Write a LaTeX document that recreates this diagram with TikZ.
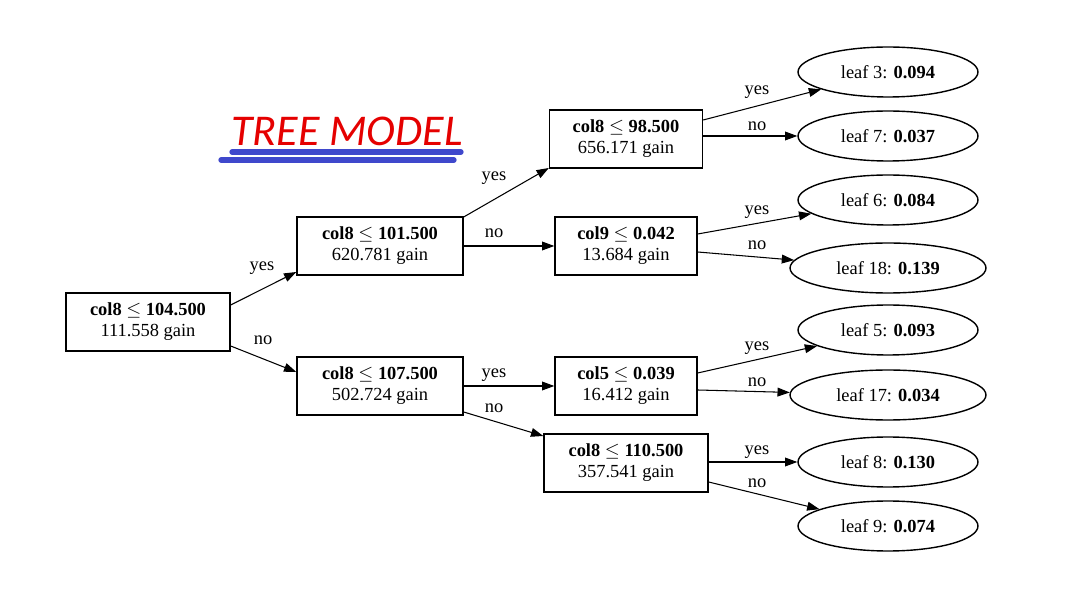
\documentclass[tikz,border=0pt]{standalone}
\usepackage{fontspec}
\setmainfont{Liberation Serif}
\newfontfamily\titlefont{Carlito}
\usetikzlibrary{arrows.meta,shapes.geometric}
\definecolor{ulblue}{HTML}{3F48CC}
\begin{document}
\begin{tikzpicture}[x=0.02cm,y=-0.02cm,
  box/.style={draw,thick,inner sep=0pt,align=center,font=\fontsize{10.5}{12}\selectfont},
  leaf/.style={draw,thick,ellipse,inner sep=0pt,minimum height=1cm,font=\fontsize{10.5}{12}\selectfont},
  edge/.style={-{Triangle[length=7pt,width=5pt]},semithick},
  lab/.style={font=\fontsize{10.5}{12}\selectfont,inner sep=1pt}]
\useasboundingbox (0,0) rectangle (1065,597);
\node[box,minimum width=3.28cm,minimum height=1.16cm] (r) at (148,322) {\textbf{col8 $\le$ 104.500}\\111.558 gain};
\node[box,minimum width=3.32cm,minimum height=1.16cm] (a) at (380,246) {\textbf{col8 $\le$ 101.500}\\620.781 gain};
\node[box,minimum width=3.32cm,minimum height=1.16cm] (b) at (380,386) {\textbf{col8 $\le$ 107.500}\\502.724 gain};
\node[box,minimum width=3.06cm,minimum height=1.16cm] (c) at (626,139) {\textbf{col8 $\le$ 98.500}\\656.171 gain};
\node[box,minimum width=2.84cm,minimum height=1.16cm] (d) at (626,246) {\textbf{col9 $\le$ 0.042}\\13.684 gain};
\node[box,minimum width=2.84cm,minimum height=1.16cm] (e) at (626,386) {\textbf{col5 $\le$ 0.039}\\16.412 gain};
\node[box,minimum width=3.28cm,minimum height=1.16cm] (f) at (626,463) {\textbf{col8 $\le$ 110.500}\\357.541 gain};
\node[leaf,minimum width=3.6cm] (l3) at (888,72) {leaf 3: \textbf{0.094}};
\node[leaf,minimum width=3.6cm] (l7) at (888,136) {leaf 7: \textbf{0.037}};
\node[leaf,minimum width=3.6cm] (l6) at (888,200) {leaf 6: \textbf{0.084}};
\node[leaf,minimum width=3.92cm] (l18) at (888,268) {leaf 18: \textbf{0.139}};
\node[leaf,minimum width=3.6cm] (l5) at (888,330) {leaf 5: \textbf{0.093}};
\node[leaf,minimum width=3.92cm] (l17) at (888,395) {leaf 17: \textbf{0.034}};
\node[leaf,minimum width=3.6cm] (l8) at (888,462) {leaf 8: \textbf{0.130}};
\node[leaf,minimum width=3.6cm] (l9) at (888,526) {leaf 9: \textbf{0.074}};
\draw[edge] (r.east|-0,305) -- (a.west|-0,272);
\draw[edge] (r.east|-0,346) -- (b.west|-0,372);
\draw[edge] (a.east|-0,217) -- (c.south west|-0,168) ;
\draw[edge] (a) -- (d);
\draw[edge] (b) -- (e);
\draw[edge] (b.east|-0,412) -- (f.north west|-0,436);
\draw[edge] (c.east|-0,120) -- (l3);
\draw[edge] (c.east|-0,136) -- (l7);
\draw[edge] (d.east|-0,234) -- (l6);
\draw[edge] (d.east|-0,252) -- (l18);
\draw[edge] (e.east|-0,373) -- (l5);
\draw[edge] (e.east|-0,390) -- (l17);
\draw[edge] (f.east|-0,462) -- (l8);
\draw[edge] (f.east|-0,482) -- (l9);
\node[lab] (y1) at (262,268) {yes};
\node[lab] (n1) at (263,340) {no};
\node[lab] (y2) at (494,178) {yes};
\node[lab] (n2) at (494,233) {no};
\node[lab] (y3) at (494,375) {yes};
\node[lab] (n3) at (494,408) {no};
\node[lab] (y4) at (757,92) {yes};
\node[lab] (n4) at (757,126) {no};
\node[lab] (y5) at (757,212) {yes};
\node[lab] (n5) at (757,245) {no};
\node[lab] (y6) at (757,348) {yes};
\node[lab] (n6) at (757,382) {no};
\node[lab] (y7) at (757,452) {yes};
\node[lab] (n7) at (757,483) {no};
\node[text=red!90!black,font=\titlefont\itshape\fontsize{25}{28}\selectfont,inner sep=0pt] (t) at (347,131) {TREE MODEL};
\draw[ulblue,line width=3pt,line cap=round] (232,152) -- (461,152);
\draw[ulblue,line width=3pt,line cap=round] (221,160) -- (454,160);
\end{tikzpicture}
\end{document}
